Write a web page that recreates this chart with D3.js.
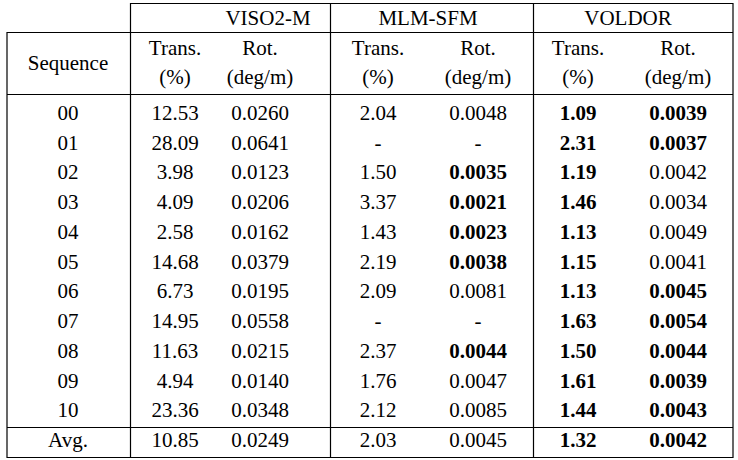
<!DOCTYPE html>
<html><head><meta charset="utf-8">
<script src="https://cdn.jsdelivr.net/npm/d3@7"></script>
<style>body{margin:0;background:#fff}</style>
</head><body><svg id="c" width="738" height="460" font-family="'Liberation Serif', 'DejaVu Serif', serif" font-size="21"></svg>
<script>
// rows of the table
var sequences = ["00","01","02","03","04","05","06","07","08","09","10"];
var visoTrans = ["12.53","28.09","3.98","4.09","2.58","14.68","6.73","14.95","11.63","4.94","23.36"];
var visoRot   = ["0.0260","0.0641","0.0123","0.0206","0.0162","0.0379","0.0195","0.0558","0.0215","0.0140","0.0348"];
var mlmTrans  = ["2.04","-","1.50","3.37","1.43","2.19","2.09","-","2.37","1.76","2.12"];
var mlmRot    = ["0.0048","-","0.0035","0.0021","0.0023","0.0038","0.0081","-","0.0044","0.0047","0.0085"];
var volTrans  = ["1.09","2.31","1.19","1.46","1.13","1.15","1.13","1.63","1.50","1.61","1.44"];
var volRot    = ["0.0039","0.0037","0.0042","0.0034","0.0049","0.0041","0.0045","0.0054","0.0044","0.0039","0.0043"];
var avgRow    = ["Avg.","10.85","0.0249","2.03","0.0045","1.32","0.0042"];
var methods = ["VISO2-M","MLM-SFM","VOLDOR"];
// bold cells: [row, column]
var boldCells = [[0,5],[0,6],[1,5],[1,6],[2,4],[2,5],[3,4],[3,5],[4,4],[4,5],[5,4],[5,5],[6,5],[6,6],
  [7,5],[7,6],[8,4],[8,5],[8,6],[9,5],[9,6],[10,5],[10,6],[11,5],[11,6]];

var rows = sequences.map(function(s,i){
  return [s,visoTrans[i],visoRot[i],mlmTrans[i],mlmRot[i],volTrans[i],volRot[i]];
});
rows.push(avgRow);

var svg = d3.select("#c");
var colX = [68,175,260,378,478,578,678];
var y = d3.scaleLinear().domain([0,11]).range([113,440]);
var line = function(x1,y1,x2,y2){
  svg.append("line").attr("x1",x1).attr("y1",y1).attr("x2",x2).attr("y2",y2)
    .attr("stroke","#000").attr("stroke-width",1.2);
};
line(130,3.5,733,3.5); line(7,32.5,733,32.5); line(7,94.5,733,94.5);
line(7,427.5,733,427.5); line(7,457.5,733,457.5);
line(7,32,7,458); line(733,3,733,458);
[130,330,533].forEach(function(x){ line(x+0.5,3,x+0.5,458); });

var txt = function(x,yy,s,bold){
  svg.append("text").attr("x",x).attr("y",yy).attr("text-anchor","middle")
    .attr("font-weight",bold?"bold":null).text(s);
};
methods.forEach(function(m,i){ txt([268,428,628][i],25,m); });
txt(68,70,"Sequence");
[1,3,5].forEach(function(c){ txt(colX[c],55,"Trans."); txt(colX[c],84,"(%)"); });
[2,4,6].forEach(function(c){ txt(colX[c],55,"Rot."); txt(colX[c],84,"(deg/m)"); });

var isBold = function(r,c){ return boldCells.some(function(b){return b[0]===r&&b[1]===c;}); };
rows.forEach(function(r,ri){
  r.forEach(function(v,ci){ txt(colX[ci],y(ri)+7,v,isBold(ri,ci)); });
});
</script></body></html>
